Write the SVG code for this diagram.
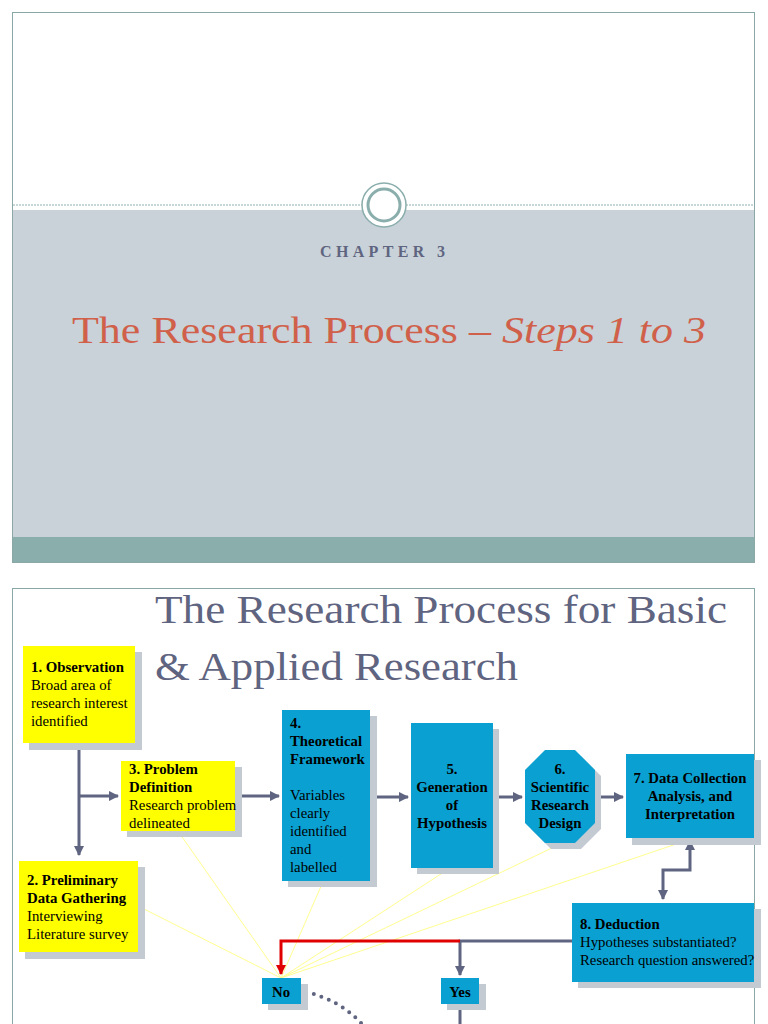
<svg xmlns="http://www.w3.org/2000/svg" width="768" height="1024" viewBox="0 0 768 1024">
<defs>
<style>
.sh{fill:#c4cad2}
.y{fill:#ffff00}
.b{fill:#0aa0d2}
.t{font-family:"Liberation Serif",serif;font-size:14.8px;fill:#000}
.bd{font-weight:bold}
.c{stroke:#5f6480;stroke-width:3;fill:none}
.yl{stroke:#ffff90;stroke-width:1;fill:none}
</style>
<marker id="a" viewBox="0 0 10 10" refX="9" refY="5" markerWidth="3.5" markerHeight="3.5" orient="auto-start-reverse"><path d="M0,0L10,5L0,10z" fill="#5f6480"/></marker>
<marker id="ar" viewBox="0 0 10 10" refX="9" refY="5" markerWidth="3.5" markerHeight="3.5" orient="auto"><path d="M0,0L10,5L0,10z" fill="#e00000"/></marker>
</defs>
<rect width="768" height="1024" fill="#fff"/>
<g id="slide1">
<rect x="12.5" y="12.5" width="742" height="550" fill="#fff" stroke="#8aa8a8"/>
<rect x="13" y="210" width="741" height="327" fill="#c8d2d8"/>
<rect x="13" y="537" width="741" height="25" fill="#8aaeac"/>
<line x1="13" y1="205" x2="754" y2="205" stroke="#8aaeac" stroke-dasharray="2,1"/>
<circle cx="384" cy="205" r="22" fill="#fff" stroke="#8aaeac" stroke-width="1.5"/>
<circle cx="384" cy="205" r="16" fill="#fff" stroke="#8aaeac" stroke-width="3"/>
<text x="320" y="257" textLength="125" lengthAdjust="spacing" font-family="Liberation Serif,serif" font-size="16" font-weight="bold" fill="#5f6480">CHAPTER 3</text>
<text x="72" y="343" textLength="634" lengthAdjust="spacingAndGlyphs" font-family="Liberation Serif,serif" font-size="38" fill="#d0604a">The Research Process – <tspan font-style="italic">Steps 1 to 3</tspan></text>
</g>
<g id="slide2">
<rect x="12.5" y="588.5" width="742" height="440" fill="#fff" stroke="#8aa8a8"/>
<text x="155" y="623" textLength="572" lengthAdjust="spacingAndGlyphs" font-family="Liberation Serif,serif" font-size="40" fill="#5f6480">The Research Process for Basic</text>
<text x="155" y="680" textLength="363" lengthAdjust="spacingAndGlyphs" font-family="Liberation Serif,serif" font-size="40" fill="#5f6480">&amp; Applied Research</text>
</g>
<g id="connectors">
<path class="yl" d="M281,978L142,908M281,978L180,834M281,978L322,884M281,978L447,870M281,978L556,846M281,978L688,840"/>
<path class="c" d="M79,743V855" marker-end="url(#a)"/>
<path class="c" d="M79,796H118" marker-end="url(#a)"/>
<path class="c" d="M236,796H279" marker-end="url(#a)"/>
<path class="c" d="M371,797H408" marker-end="url(#a)"/>
<path class="c" d="M494,797H522" marker-end="url(#a)"/>
<path class="c" d="M596,797H623" marker-end="url(#a)"/>
<path class="c" d="M690,841V870H663V899" marker-start="url(#a)" marker-end="url(#a)"/>
<path class="c" d="M572,941H460V975" marker-end="url(#a)"/>
<path d="M460,941H281V974" stroke="#e00000" stroke-width="3" fill="none" marker-end="url(#ar)"/>
<path class="c" d="M460,1004V1024"/>
<path d="M306,992Q340,1000 362,1024" stroke="#5f6480" stroke-width="4" stroke-dasharray="0,8" stroke-linecap="round" fill="none"/>
</g>
<g id="n1"><rect class="sh" x="29" y="652" width="113" height="98"/><rect class="y" x="23" y="646" width="112" height="97"/>
<text class="t" x="31" y="672"><tspan class="bd">1. Observation</tspan><tspan x="31" dy="18">Broad area of</tspan><tspan x="31" dy="18">research interest</tspan><tspan x="31" dy="18">identified</tspan></text></g>
<g id="n3"><rect class="sh" x="127" y="767" width="115" height="70"/><rect class="y" x="121" y="761" width="114" height="70"/>
<text class="t" x="129" y="774"><tspan class="bd">3. Problem</tspan><tspan class="bd" x="129" dy="18">Definition</tspan><tspan x="129" dy="18">Research problem</tspan><tspan x="129" dy="18">delineated</tspan></text></g>
<g id="n2"><rect class="sh" x="25" y="867" width="120" height="92"/><rect class="y" x="19" y="861" width="119" height="91"/>
<text class="t" x="27" y="885"><tspan class="bd">2. Preliminary</tspan><tspan class="bd" x="27" dy="18">Data Gathering</tspan><tspan x="27" dy="18">Interviewing</tspan><tspan x="27" dy="18">Literature survey</tspan></text></g>
<g id="n4"><rect class="sh" x="288" y="716" width="89" height="171"/><rect class="b" x="282" y="710" width="88" height="171"/>
<text class="t" x="290" y="728"><tspan class="bd">4.</tspan><tspan class="bd" x="290" dy="18">Theoretical</tspan><tspan class="bd" x="290" dy="18">Framework</tspan><tspan x="290" dy="36">Variables</tspan><tspan x="290" dy="18">clearly</tspan><tspan x="290" dy="18">identified</tspan><tspan x="290" dy="18">and</tspan><tspan x="290" dy="18">labelled</tspan></text></g>
<g id="n5"><rect class="sh" x="417" y="729" width="82" height="145"/><rect class="b" x="411" y="723" width="82" height="145"/>
<text class="t bd" text-anchor="middle" x="452" y="774"><tspan>5.</tspan><tspan x="452" dy="18">Generation</tspan><tspan x="452" dy="18">of</tspan><tspan x="452" dy="18">Hypothesis</tspan></text></g>
<g id="n6"><polygon class="sh" points="551,756 581,756 601,776 601,829 581,849 551,849 531,829 531,776"/><polygon class="b" points="545,750 575,750 595,770 595,823 575,843 545,843 525,823 525,770"/>
<text class="t bd" text-anchor="middle" x="560" y="774"><tspan>6.</tspan><tspan x="560" dy="18">Scientific</tspan><tspan x="560" dy="18">Research</tspan><tspan x="560" dy="18">Design</tspan></text></g>
<g id="n7"><rect class="sh" x="632" y="760" width="129" height="85"/><rect class="b" x="626" y="754" width="128" height="84"/>
<text class="t bd" text-anchor="middle" x="690" y="783"><tspan>7. Data Collection</tspan><tspan x="690" dy="18">Analysis, and</tspan><tspan x="690" dy="18">Interpretation</tspan></text></g>
<g id="n8"><rect class="sh" x="578" y="909" width="183" height="79"/><rect class="b" x="572" y="903" width="182" height="79"/>
<text class="t" x="580" y="929"><tspan class="bd">8. Deduction</tspan><tspan x="580" dy="18">Hypotheses substantiated?</tspan><tspan x="580" dy="18">Research question answered?</tspan></text></g>
<g id="no"><rect class="sh" x="268" y="984" width="40" height="26"/><rect class="b" x="262" y="978" width="39" height="26"/>
<text class="t bd" text-anchor="middle" x="281" y="997">No</text></g>
<g id="yes"><rect class="sh" x="447" y="984" width="39" height="26"/><rect class="b" x="441" y="978" width="38" height="26"/>
<text class="t bd" text-anchor="middle" x="460" y="997">Yes</text></g>
</svg>
